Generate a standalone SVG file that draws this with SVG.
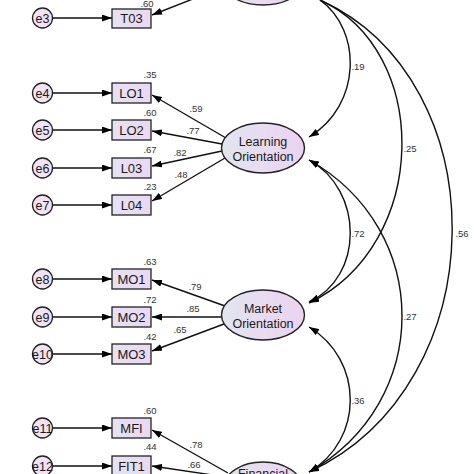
<svg xmlns="http://www.w3.org/2000/svg" width="474" height="474" viewBox="0 0 474 474">
<style>
text{font-family:"Liberation Sans",Arial,sans-serif;fill:#1a1a1a}
.lv{fill:url(#eg);stroke:#222;stroke-width:1.4}
.box{fill:url(#bg);stroke:#222;stroke-width:1.3}
.err{fill:#f1e3f3;stroke:#222;stroke-width:1.3}
.bt{font-size:13px;text-anchor:middle}
.et{font-size:12.5px;text-anchor:middle}
.lt{font-size:12.5px;text-anchor:middle}
.nb{font-size:9.5px;fill:#333;text-anchor:middle}
.ln{fill:none;stroke:#111;stroke-width:1.4}
.arr{marker-end:url(#ah)}
.arr2{marker-start:url(#ah);marker-end:url(#ah)}
</style>
<defs>
<linearGradient id="eg" x1="0" y1="0" x2="1" y2="0">
<stop offset="0" stop-color="#e2e5ef"/>
<stop offset="1" stop-color="#ecd3f1"/>
</linearGradient>
<linearGradient id="bg" x1="0" y1="0" x2="1" y2="0">
<stop offset="0" stop-color="#e6e2f2"/>
<stop offset="1" stop-color="#ead8f2"/>
</linearGradient>
<marker id="ah" viewBox="0 0 10 7" refX="10" refY="3.5" markerWidth="10" markerHeight="7" markerUnits="userSpaceOnUse" orient="auto-start-reverse">
<path d="M0,0 L10,3.5 L0,7 z" fill="#000"/>
</marker>
</defs>

<g id="connectors">
<line class="ln arr" x1="52.5" y1="18" x2="112" y2="18"/>
<line class="ln arr" x1="52.5" y1="93" x2="112" y2="93"/>
<line class="ln arr" x1="52.5" y1="130" x2="112" y2="130"/>
<line class="ln arr" x1="52.5" y1="168" x2="112" y2="168"/>
<line class="ln arr" x1="52.5" y1="205" x2="112" y2="205"/>
<line class="ln arr" x1="52.5" y1="279" x2="112" y2="279"/>
<line class="ln arr" x1="52.5" y1="317" x2="112" y2="317"/>
<line class="ln arr" x1="52.5" y1="354" x2="112" y2="354"/>
<line class="ln arr" x1="52.5" y1="428" x2="112" y2="428"/>
<line class="ln arr" x1="52.5" y1="466" x2="112" y2="466"/>
<line class="ln arr" x1="203" y1="-5" x2="152" y2="15"/>
<line class="ln arr" x1="226" y1="138" x2="152" y2="95"/>
<line class="ln arr" x1="222" y1="144" x2="152" y2="131"/>
<line class="ln arr" x1="222" y1="151" x2="152" y2="166"/>
<line class="ln arr" x1="225" y1="158" x2="152" y2="201"/>
<line class="ln arr" x1="225" y1="306" x2="152" y2="280"/>
<line class="ln arr" x1="222" y1="317" x2="152" y2="317"/>
<line class="ln arr" x1="224" y1="324" x2="152" y2="351"/>
<line class="ln arr" x1="228" y1="473" x2="152" y2="430"/>
<line class="ln arr" x1="226" y1="477" x2="152" y2="466"/>
<path class="ln arr" d="M320,0 C362,30 362,105 309,137"/>
<path class="ln arr" d="M320,0 C431,50 431,244 309,303"/>
<path class="ln arr" d="M320,0 C498,80 498,384 309,472"/>
<path class="ln arr2" d="M309,160 C364,190 364,277 309,302"/>
<path class="ln arr2" d="M309,160 C433,230 433,402 309,472"/>
<path class="ln arr2" d="M309,327 C364,360 364,440 309,472"/>
</g>

<g id="labels">
<text class="nb" x="147" y="7">.60</text>
<text class="nb" x="358" y="70">.19</text>
<text class="nb" x="410" y="152">.25</text>
<text class="nb" x="462" y="237">.56</text>
<text class="nb" x="358" y="237">.72</text>
<text class="nb" x="410" y="320">.27</text>
<text class="nb" x="358" y="404">.36</text>
<text class="nb" x="150" y="78">.35</text>
<text class="nb" x="150" y="116">.60</text>
<text class="nb" x="150" y="153">.67</text>
<text class="nb" x="150" y="190">.23</text>
<text class="nb" x="196" y="112">.59</text>
<text class="nb" x="193" y="134">.77</text>
<text class="nb" x="180" y="156">.82</text>
<text class="nb" x="181" y="178">.48</text>
<text class="nb" x="150" y="265">.63</text>
<text class="nb" x="150" y="303">.72</text>
<text class="nb" x="150" y="340">.42</text>
<text class="nb" x="195" y="290">.79</text>
<text class="nb" x="193" y="312">.85</text>
<text class="nb" x="180" y="333">.65</text>
<text class="nb" x="150" y="414">.60</text>
<text class="nb" x="150" y="450">.44</text>
<text class="nb" x="196" y="448">.78</text>
<text class="nb" x="194" y="468">.66</text>
</g>

<g id="F1"><ellipse class="lv" cx="263" cy="-20" rx="41.5" ry="25"/></g>
<g id="LO"><ellipse class="lv" cx="263" cy="148" rx="41.5" ry="25"/>
<text class="lt" x="263" y="146">Learning</text><text class="lt" x="263" y="161">Orientation</text></g>
<g id="MO"><ellipse class="lv" cx="263" cy="315" rx="41.5" ry="25"/>
<text class="lt" x="263" y="313">Market</text><text class="lt" x="263" y="328">Orientation</text></g>
<g id="FP"><ellipse class="lv" cx="263" cy="487" rx="39" ry="25"/>
<text class="lt" x="263" y="478">Financial</text></g>

<g id="T03"><rect class="box" x="112" y="9" width="39" height="19"/><text class="bt" x="131.5" y="23">T03</text></g>
<g id="LO1"><rect class="box" x="112" y="83" width="39" height="20"/><text class="bt" x="131.5" y="98">LO1</text></g>
<g id="LO2"><rect class="box" x="112" y="120" width="39" height="20"/><text class="bt" x="131.5" y="135">LO2</text></g>
<g id="L03"><rect class="box" x="112" y="158" width="39" height="20"/><text class="bt" x="131.5" y="173">L03</text></g>
<g id="L04"><rect class="box" x="112" y="195" width="39" height="20"/><text class="bt" x="131.5" y="210">L04</text></g>
<g id="MO1"><rect class="box" x="112" y="269" width="39" height="20"/><text class="bt" x="131.5" y="284">MO1</text></g>
<g id="MO2"><rect class="box" x="112" y="307" width="39" height="20"/><text class="bt" x="131.5" y="322">MO2</text></g>
<g id="MO3"><rect class="box" x="112" y="344" width="39" height="20"/><text class="bt" x="131.5" y="359">MO3</text></g>
<g id="MFI"><rect class="box" x="112" y="418" width="39" height="20"/><text class="bt" x="131.5" y="433">MFI</text></g>
<g id="FIT1"><rect class="box" x="112" y="456" width="39" height="20"/><text class="bt" x="131.5" y="471">FIT1</text></g>

<g id="e3"><circle class="err" cx="42.5" cy="18" r="10"/><text class="et" x="42.5" y="22.5">e3</text></g>
<g id="e4"><circle class="err" cx="42.5" cy="93" r="10"/><text class="et" x="42.5" y="97.5">e4</text></g>
<g id="e5"><circle class="err" cx="42.5" cy="130" r="10"/><text class="et" x="42.5" y="134.5">e5</text></g>
<g id="e6"><circle class="err" cx="42.5" cy="168" r="10"/><text class="et" x="42.5" y="172.5">e6</text></g>
<g id="e7"><circle class="err" cx="42.5" cy="205" r="10"/><text class="et" x="42.5" y="209.5">e7</text></g>
<g id="e8"><circle class="err" cx="42.5" cy="279" r="10"/><text class="et" x="42.5" y="283.5">e8</text></g>
<g id="e9"><circle class="err" cx="42.5" cy="317" r="10"/><text class="et" x="42.5" y="321.5">e9</text></g>
<g id="e10"><circle class="err" cx="42.5" cy="354" r="10"/><text class="et" x="42.5" y="358.5">e10</text></g>
<g id="e11"><circle class="err" cx="42.5" cy="428" r="10"/><text class="et" x="42.5" y="432.5">e11</text></g>
<g id="e12"><circle class="err" cx="42.5" cy="466" r="10"/><text class="et" x="42.5" y="470.5">e12</text></g>
</svg>
